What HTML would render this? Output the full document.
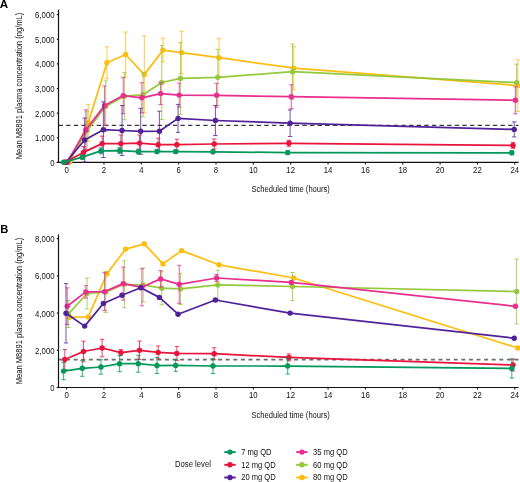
<!DOCTYPE html>
<html><head><meta charset="utf-8"><title>M8891 plasma concentration</title>
<style>
html,body{margin:0;padding:0;background:#fff;}
body{width:520px;height:482px;overflow:hidden;}
svg{display:block;}
svg text{font-family:"Liberation Sans", Arial, Helvetica, sans-serif;}
</style></head>
<body>
<svg width="520" height="482" viewBox="0 0 520 482">
<rect width="520" height="482" fill="#fff"/>
<text x="-0.2" y="7.9" font-size="11.6px" font-weight="bold" fill="#000">A</text>
<text transform="translate(22.40,86.00) rotate(-90) scale(1,1.12)" text-anchor="middle" font-size="7.6px" fill="#111">Mean M8891 plasma concentration (ng/mL)</text>
<line x1="58.5" y1="125.4" x2="518.5" y2="125.4" stroke="#3a3a3a" stroke-width="1.15" stroke-dasharray="4.4 3.22"/>
<line x1="58.5" y1="9.6" x2="58.5" y2="163.0" stroke="#111" stroke-width="1.2"/>
<line x1="56.8" y1="162.4" x2="518.6" y2="162.4" stroke="#111" stroke-width="1.2"/>
<line x1="56.8" y1="162.4" x2="58.5" y2="162.4" stroke="#111" stroke-width="1.1"/>
<text transform="translate(54.60,165.90) scale(1,1.12)" text-anchor="end" font-size="7.8px" fill="#111">0</text>
<line x1="56.8" y1="137.77" x2="58.5" y2="137.77" stroke="#111" stroke-width="1.1"/>
<text transform="translate(54.60,141.27) scale(1,1.12)" text-anchor="end" font-size="7.8px" fill="#111">1,000</text>
<line x1="56.8" y1="113.14" x2="58.5" y2="113.14" stroke="#111" stroke-width="1.1"/>
<text transform="translate(54.60,116.64) scale(1,1.12)" text-anchor="end" font-size="7.8px" fill="#111">2,000</text>
<line x1="56.8" y1="88.51" x2="58.5" y2="88.51" stroke="#111" stroke-width="1.1"/>
<text transform="translate(54.60,92.01) scale(1,1.12)" text-anchor="end" font-size="7.8px" fill="#111">3,000</text>
<line x1="56.8" y1="63.88" x2="58.5" y2="63.88" stroke="#111" stroke-width="1.1"/>
<text transform="translate(54.60,67.38) scale(1,1.12)" text-anchor="end" font-size="7.8px" fill="#111">4,000</text>
<line x1="56.8" y1="39.25" x2="58.5" y2="39.25" stroke="#111" stroke-width="1.1"/>
<text transform="translate(54.60,42.75) scale(1,1.12)" text-anchor="end" font-size="7.8px" fill="#111">5,000</text>
<line x1="56.8" y1="14.62" x2="58.5" y2="14.62" stroke="#111" stroke-width="1.1"/>
<text transform="translate(54.60,18.12) scale(1,1.12)" text-anchor="end" font-size="7.8px" fill="#111">6,000</text>
<line x1="66.60" y1="162.4" x2="66.60" y2="164.4" stroke="#111" stroke-width="1.1"/>
<text transform="translate(66.60,172.90) scale(1,1.12)" text-anchor="middle" font-size="7.8px" fill="#111">0</text>
<line x1="103.95" y1="162.4" x2="103.95" y2="164.4" stroke="#111" stroke-width="1.1"/>
<text transform="translate(103.95,172.90) scale(1,1.12)" text-anchor="middle" font-size="7.8px" fill="#111">2</text>
<line x1="141.30" y1="162.4" x2="141.30" y2="164.4" stroke="#111" stroke-width="1.1"/>
<text transform="translate(141.30,172.90) scale(1,1.12)" text-anchor="middle" font-size="7.8px" fill="#111">4</text>
<line x1="178.65" y1="162.4" x2="178.65" y2="164.4" stroke="#111" stroke-width="1.1"/>
<text transform="translate(178.65,172.90) scale(1,1.12)" text-anchor="middle" font-size="7.8px" fill="#111">6</text>
<line x1="216.00" y1="162.4" x2="216.00" y2="164.4" stroke="#111" stroke-width="1.1"/>
<text transform="translate(216.00,172.90) scale(1,1.12)" text-anchor="middle" font-size="7.8px" fill="#111">8</text>
<line x1="253.35" y1="162.4" x2="253.35" y2="164.4" stroke="#111" stroke-width="1.1"/>
<text transform="translate(253.35,172.90) scale(1,1.12)" text-anchor="middle" font-size="7.8px" fill="#111">10</text>
<line x1="290.70" y1="162.4" x2="290.70" y2="164.4" stroke="#111" stroke-width="1.1"/>
<text transform="translate(290.70,172.90) scale(1,1.12)" text-anchor="middle" font-size="7.8px" fill="#111">12</text>
<line x1="328.05" y1="162.4" x2="328.05" y2="164.4" stroke="#111" stroke-width="1.1"/>
<text transform="translate(328.05,172.90) scale(1,1.12)" text-anchor="middle" font-size="7.8px" fill="#111">14</text>
<line x1="365.40" y1="162.4" x2="365.40" y2="164.4" stroke="#111" stroke-width="1.1"/>
<text transform="translate(365.40,172.90) scale(1,1.12)" text-anchor="middle" font-size="7.8px" fill="#111">16</text>
<line x1="402.75" y1="162.4" x2="402.75" y2="164.4" stroke="#111" stroke-width="1.1"/>
<text transform="translate(402.75,172.90) scale(1,1.12)" text-anchor="middle" font-size="7.8px" fill="#111">18</text>
<line x1="440.10" y1="162.4" x2="440.10" y2="164.4" stroke="#111" stroke-width="1.1"/>
<text transform="translate(440.10,172.90) scale(1,1.12)" text-anchor="middle" font-size="7.8px" fill="#111">20</text>
<line x1="477.45" y1="162.4" x2="477.45" y2="164.4" stroke="#111" stroke-width="1.1"/>
<text transform="translate(477.45,172.90) scale(1,1.12)" text-anchor="middle" font-size="7.8px" fill="#111">22</text>
<line x1="514.80" y1="162.4" x2="514.80" y2="164.4" stroke="#111" stroke-width="1.1"/>
<text transform="translate(514.80,172.90) scale(1,1.12)" text-anchor="middle" font-size="7.8px" fill="#111">24</text>
<text transform="translate(290.70,192.20) scale(1,1.12)" text-anchor="middle" font-size="7.6px" fill="#111">Scheduled time (hours)</text>
<path d="M88.27 104.40V141.20M86.07 104.40H90.47M86.07 141.20H90.47M106.95 46.80V78.80M104.75 46.80H109.15M104.75 78.80H109.15M125.62 32.00V77.00M123.42 32.00H127.83M123.42 77.00H127.83M144.30 36.10V113.10M142.10 36.10H146.50M142.10 113.10H146.50M162.97 38.10V62.10M160.78 38.10H165.17M160.78 62.10H165.17M181.65 31.30V73.90M179.45 31.30H183.85M179.45 73.90H183.85M219.00 38.70V76.70M216.80 38.70H221.20M216.80 76.70H221.20M293.70 46.60V89.60M291.50 46.60H295.90M291.50 89.60H295.90M517.80 59.80V111.40M515.60 59.80H520.00M515.60 111.40H520.00" stroke="#fdbd10" stroke-opacity="0.78" stroke-width="1" fill="none"/>
<polyline points="69.60,162.30 88.27,122.80 106.95,62.80 125.62,54.50 144.30,74.60 162.97,50.10 181.65,52.60 219.00,57.70 293.70,68.10 517.80,85.60" fill="none" stroke="#fdbd10" stroke-width="1.75" stroke-linejoin="round"/>
<circle cx="69.60" cy="162.30" r="2.7" fill="#fdbd10"/>
<circle cx="88.27" cy="122.80" r="2.7" fill="#fdbd10"/>
<circle cx="106.95" cy="62.80" r="2.7" fill="#fdbd10"/>
<circle cx="125.62" cy="54.50" r="2.7" fill="#fdbd10"/>
<circle cx="144.30" cy="74.60" r="2.7" fill="#fdbd10"/>
<circle cx="162.97" cy="50.10" r="2.7" fill="#fdbd10"/>
<circle cx="181.65" cy="52.60" r="2.7" fill="#fdbd10"/>
<circle cx="219.00" cy="57.70" r="2.7" fill="#fdbd10"/>
<circle cx="293.70" cy="68.10" r="2.7" fill="#fdbd10"/>
<circle cx="517.80" cy="85.60" r="2.7" fill="#fdbd10"/>
<path d="M87.07 111.60V149.60M84.87 111.60H89.27M84.87 149.60H89.27M105.75 80.90V131.50M103.55 80.90H107.95M103.55 131.50H107.95M124.42 72.60V119.80M122.22 72.60H126.62M122.22 119.80H126.62M143.10 72.80V116.80M140.90 72.80H145.30M140.90 116.80H145.30M161.78 45.50V119.50M159.58 45.50H163.97M159.58 119.50H163.97M180.45 42.40V114.40M178.25 42.40H182.65M178.25 114.40H182.65M217.80 49.30V105.30M215.60 49.30H220.00M215.60 105.30H220.00M292.50 44.10V99.30M290.30 44.10H294.70M290.30 99.30H294.70M516.60 64.20V101.00M514.40 64.20H518.80M514.40 101.00H518.80" stroke="#96c83c" stroke-opacity="0.78" stroke-width="1" fill="none"/>
<polyline points="68.40,162.30 87.07,130.60 105.75,106.20 124.42,96.20 143.10,94.80 161.78,82.50 180.45,78.40 217.80,77.30 292.50,71.70 516.60,82.60" fill="none" stroke="#96c83c" stroke-width="1.75" stroke-linejoin="round"/>
<circle cx="68.40" cy="162.30" r="2.7" fill="#96c83c"/>
<circle cx="87.07" cy="130.60" r="2.7" fill="#96c83c"/>
<circle cx="105.75" cy="106.20" r="2.7" fill="#96c83c"/>
<circle cx="124.42" cy="96.20" r="2.7" fill="#96c83c"/>
<circle cx="143.10" cy="94.80" r="2.7" fill="#96c83c"/>
<circle cx="161.78" cy="82.50" r="2.7" fill="#96c83c"/>
<circle cx="180.45" cy="78.40" r="2.7" fill="#96c83c"/>
<circle cx="217.80" cy="77.30" r="2.7" fill="#96c83c"/>
<circle cx="292.50" cy="71.70" r="2.7" fill="#96c83c"/>
<circle cx="516.60" cy="82.60" r="2.7" fill="#96c83c"/>
<path d="M85.87 109.90V149.90M83.67 109.90H88.07M83.67 149.90H88.07M104.55 85.90V125.30M102.35 85.90H106.75M102.35 125.30H106.75M123.22 77.60V113.60M121.02 77.60H125.42M121.02 113.60H125.42M141.90 82.80V112.80M139.70 82.80H144.10M139.70 112.80H144.10M160.57 82.60V104.60M158.38 82.60H162.77M158.38 104.60H162.77M179.25 83.10V107.10M177.05 83.10H181.45M177.05 107.10H181.45M216.60 83.30V107.30M214.40 83.30H218.80M214.40 107.30H218.80M291.30 84.70V108.70M289.10 84.70H293.50M289.10 108.70H293.50M515.40 86.80V113.80M513.20 86.80H517.60M513.20 113.80H517.60" stroke="#ea2e8d" stroke-opacity="0.78" stroke-width="1" fill="none"/>
<polyline points="67.20,162.30 85.87,129.90 104.55,105.60 123.22,95.60 141.90,97.80 160.57,93.60 179.25,95.10 216.60,95.30 291.30,96.70 515.40,100.30" fill="none" stroke="#ea2e8d" stroke-width="1.75" stroke-linejoin="round"/>
<circle cx="67.20" cy="162.30" r="2.7" fill="#ea2e8d"/>
<circle cx="85.87" cy="129.90" r="2.7" fill="#ea2e8d"/>
<circle cx="104.55" cy="105.60" r="2.7" fill="#ea2e8d"/>
<circle cx="123.22" cy="95.60" r="2.7" fill="#ea2e8d"/>
<circle cx="141.90" cy="97.80" r="2.7" fill="#ea2e8d"/>
<circle cx="160.57" cy="93.60" r="2.7" fill="#ea2e8d"/>
<circle cx="179.25" cy="95.10" r="2.7" fill="#ea2e8d"/>
<circle cx="216.60" cy="95.30" r="2.7" fill="#ea2e8d"/>
<circle cx="291.30" cy="96.70" r="2.7" fill="#ea2e8d"/>
<circle cx="515.40" cy="100.30" r="2.7" fill="#ea2e8d"/>
<path d="M84.67 118.00V162.00M82.47 118.00H86.88M82.47 162.00H86.88M103.35 101.90V157.50M101.15 101.90H105.55M101.15 157.50H105.55M122.03 105.50V155.50M119.83 105.50H124.23M119.83 155.50H124.23M140.70 108.30V154.30M138.50 108.30H142.90M138.50 154.30H142.90M159.38 111.20V151.20M157.18 111.20H161.57M157.18 151.20H161.57M178.05 104.40V132.40M175.85 104.40H180.25M175.85 132.40H180.25M215.40 105.50V135.50M213.20 105.50H217.60M213.20 135.50H217.60M290.10 109.90V136.50M287.90 109.90H292.30M287.90 136.50H292.30M514.20 121.90V136.90M512.00 121.90H516.40M512.00 136.90H516.40" stroke="#50229a" stroke-opacity="0.78" stroke-width="1" fill="none"/>
<polyline points="66.00,162.30 84.67,140.00 103.35,129.70 122.03,130.50 140.70,131.30 159.38,131.20 178.05,118.40 215.40,120.50 290.10,123.20 514.20,129.40" fill="none" stroke="#50229a" stroke-width="1.75" stroke-linejoin="round"/>
<circle cx="66.00" cy="162.30" r="2.7" fill="#50229a"/>
<circle cx="84.67" cy="140.00" r="2.7" fill="#50229a"/>
<circle cx="103.35" cy="129.70" r="2.7" fill="#50229a"/>
<circle cx="122.03" cy="130.50" r="2.7" fill="#50229a"/>
<circle cx="140.70" cy="131.30" r="2.7" fill="#50229a"/>
<circle cx="159.38" cy="131.20" r="2.7" fill="#50229a"/>
<circle cx="178.05" cy="118.40" r="2.7" fill="#50229a"/>
<circle cx="215.40" cy="120.50" r="2.7" fill="#50229a"/>
<circle cx="290.10" cy="123.20" r="2.7" fill="#50229a"/>
<circle cx="514.20" cy="129.40" r="2.7" fill="#50229a"/>
<path d="M83.47 146.60V158.20M81.27 146.60H85.67M81.27 158.20H85.67M102.15 136.10V151.10M99.95 136.10H104.35M99.95 151.10H104.35M120.83 135.00V152.20M118.62 135.00H123.03M118.62 152.20H123.03M139.50 135.00V151.20M137.30 135.00H141.70M137.30 151.20H141.70M158.17 138.10V151.30M155.97 138.10H160.37M155.97 151.30H160.37M176.85 139.20V150.20M174.65 139.20H179.05M174.65 150.20H179.05M214.20 139.00V149.00M212.00 139.00H216.40M212.00 149.00H216.40M288.90 140.30V146.30M286.70 140.30H291.10M286.70 146.30H291.10M513.00 142.40V148.40M510.80 142.40H515.20M510.80 148.40H515.20" stroke="#e8143c" stroke-opacity="0.78" stroke-width="1" fill="none"/>
<polyline points="64.80,162.30 83.47,152.40 102.15,143.60 120.83,143.60 139.50,143.10 158.17,144.70 176.85,144.70 214.20,144.00 288.90,143.30 513.00,145.40" fill="none" stroke="#e8143c" stroke-width="1.75" stroke-linejoin="round"/>
<circle cx="64.80" cy="162.30" r="2.7" fill="#e8143c"/>
<circle cx="83.47" cy="152.40" r="2.7" fill="#e8143c"/>
<circle cx="102.15" cy="143.60" r="2.7" fill="#e8143c"/>
<circle cx="120.83" cy="143.60" r="2.7" fill="#e8143c"/>
<circle cx="139.50" cy="143.10" r="2.7" fill="#e8143c"/>
<circle cx="158.17" cy="144.70" r="2.7" fill="#e8143c"/>
<circle cx="176.85" cy="144.70" r="2.7" fill="#e8143c"/>
<circle cx="214.20" cy="144.00" r="2.7" fill="#e8143c"/>
<circle cx="288.90" cy="143.30" r="2.7" fill="#e8143c"/>
<circle cx="513.00" cy="145.40" r="2.7" fill="#e8143c"/>
<path d="M82.27 155.20V159.20M80.07 155.20H84.47M80.07 159.20H84.47M100.95 147.90V153.90M98.75 147.90H103.15M98.75 153.90H103.15M119.62 147.60V153.60M117.42 147.60H121.83M117.42 153.60H121.83M138.30 149.10V154.10M136.10 149.10H140.50M136.10 154.10H140.50M156.97 149.60V153.60M154.78 149.60H159.17M154.78 153.60H159.17M175.65 149.60V153.60M173.45 149.60H177.85M173.45 153.60H177.85M213.00 149.80V153.80M210.80 149.80H215.20M210.80 153.80H215.20M287.70 150.60V154.60M285.50 150.60H289.90M285.50 154.60H289.90M511.80 150.80V154.80M509.60 150.80H514.00M509.60 154.80H514.00" stroke="#00985a" stroke-opacity="0.78" stroke-width="1" fill="none"/>
<polyline points="63.60,162.30 82.27,157.20 100.95,150.90 119.62,150.60 138.30,151.60 156.97,151.60 175.65,151.60 213.00,151.80 287.70,152.60 511.80,152.80" fill="none" stroke="#00985a" stroke-width="1.75" stroke-linejoin="round"/>
<circle cx="63.60" cy="162.30" r="2.7" fill="#00985a"/>
<circle cx="82.27" cy="157.20" r="2.7" fill="#00985a"/>
<circle cx="100.95" cy="150.90" r="2.7" fill="#00985a"/>
<circle cx="119.62" cy="150.60" r="2.7" fill="#00985a"/>
<circle cx="138.30" cy="151.60" r="2.7" fill="#00985a"/>
<circle cx="156.97" cy="151.60" r="2.7" fill="#00985a"/>
<circle cx="175.65" cy="151.60" r="2.7" fill="#00985a"/>
<circle cx="213.00" cy="151.80" r="2.7" fill="#00985a"/>
<circle cx="287.70" cy="152.60" r="2.7" fill="#00985a"/>
<circle cx="511.80" cy="152.80" r="2.7" fill="#00985a"/>
<text x="0.35" y="232.9" font-size="11.2px" font-weight="bold" fill="#000">B</text>
<text transform="translate(22.40,311.00) rotate(-90) scale(1,1.12)" text-anchor="middle" font-size="7.6px" fill="#111">Mean M8891 plasma concentration (ng/mL)</text>
<line x1="58.5" y1="359.6" x2="518.5" y2="359.6" stroke="#6e6e6e" stroke-width="1.6" stroke-dasharray="4.0 3.6"/>
<line x1="58.5" y1="234.5" x2="58.5" y2="388.1" stroke="#111" stroke-width="1.2"/>
<line x1="56.8" y1="387.5" x2="518.6" y2="387.5" stroke="#111" stroke-width="1.2"/>
<line x1="56.8" y1="387.5" x2="58.5" y2="387.5" stroke="#111" stroke-width="1.1"/>
<text transform="translate(54.60,391.00) scale(1,1.12)" text-anchor="end" font-size="7.8px" fill="#111">0</text>
<line x1="56.8" y1="350.28" x2="58.5" y2="350.28" stroke="#111" stroke-width="1.1"/>
<text transform="translate(54.60,353.78) scale(1,1.12)" text-anchor="end" font-size="7.8px" fill="#111">2,000</text>
<line x1="56.8" y1="313.06" x2="58.5" y2="313.06" stroke="#111" stroke-width="1.1"/>
<text transform="translate(54.60,316.56) scale(1,1.12)" text-anchor="end" font-size="7.8px" fill="#111">4,000</text>
<line x1="56.8" y1="275.84" x2="58.5" y2="275.84" stroke="#111" stroke-width="1.1"/>
<text transform="translate(54.60,279.34) scale(1,1.12)" text-anchor="end" font-size="7.8px" fill="#111">6,000</text>
<line x1="56.8" y1="238.62" x2="58.5" y2="238.62" stroke="#111" stroke-width="1.1"/>
<text transform="translate(54.60,242.12) scale(1,1.12)" text-anchor="end" font-size="7.8px" fill="#111">8,000</text>
<line x1="66.60" y1="387.5" x2="66.60" y2="389.5" stroke="#111" stroke-width="1.1"/>
<text transform="translate(66.60,397.90) scale(1,1.12)" text-anchor="middle" font-size="7.8px" fill="#111">0</text>
<line x1="103.95" y1="387.5" x2="103.95" y2="389.5" stroke="#111" stroke-width="1.1"/>
<text transform="translate(103.95,397.90) scale(1,1.12)" text-anchor="middle" font-size="7.8px" fill="#111">2</text>
<line x1="141.30" y1="387.5" x2="141.30" y2="389.5" stroke="#111" stroke-width="1.1"/>
<text transform="translate(141.30,397.90) scale(1,1.12)" text-anchor="middle" font-size="7.8px" fill="#111">4</text>
<line x1="178.65" y1="387.5" x2="178.65" y2="389.5" stroke="#111" stroke-width="1.1"/>
<text transform="translate(178.65,397.90) scale(1,1.12)" text-anchor="middle" font-size="7.8px" fill="#111">6</text>
<line x1="216.00" y1="387.5" x2="216.00" y2="389.5" stroke="#111" stroke-width="1.1"/>
<text transform="translate(216.00,397.90) scale(1,1.12)" text-anchor="middle" font-size="7.8px" fill="#111">8</text>
<line x1="253.35" y1="387.5" x2="253.35" y2="389.5" stroke="#111" stroke-width="1.1"/>
<text transform="translate(253.35,397.90) scale(1,1.12)" text-anchor="middle" font-size="7.8px" fill="#111">10</text>
<line x1="290.70" y1="387.5" x2="290.70" y2="389.5" stroke="#111" stroke-width="1.1"/>
<text transform="translate(290.70,397.90) scale(1,1.12)" text-anchor="middle" font-size="7.8px" fill="#111">12</text>
<line x1="328.05" y1="387.5" x2="328.05" y2="389.5" stroke="#111" stroke-width="1.1"/>
<text transform="translate(328.05,397.90) scale(1,1.12)" text-anchor="middle" font-size="7.8px" fill="#111">14</text>
<line x1="365.40" y1="387.5" x2="365.40" y2="389.5" stroke="#111" stroke-width="1.1"/>
<text transform="translate(365.40,397.90) scale(1,1.12)" text-anchor="middle" font-size="7.8px" fill="#111">16</text>
<line x1="402.75" y1="387.5" x2="402.75" y2="389.5" stroke="#111" stroke-width="1.1"/>
<text transform="translate(402.75,397.90) scale(1,1.12)" text-anchor="middle" font-size="7.8px" fill="#111">18</text>
<line x1="440.10" y1="387.5" x2="440.10" y2="389.5" stroke="#111" stroke-width="1.1"/>
<text transform="translate(440.10,397.90) scale(1,1.12)" text-anchor="middle" font-size="7.8px" fill="#111">20</text>
<line x1="477.45" y1="387.5" x2="477.45" y2="389.5" stroke="#111" stroke-width="1.1"/>
<text transform="translate(477.45,397.90) scale(1,1.12)" text-anchor="middle" font-size="7.8px" fill="#111">22</text>
<line x1="514.80" y1="387.5" x2="514.80" y2="389.5" stroke="#111" stroke-width="1.1"/>
<text transform="translate(514.80,397.90) scale(1,1.12)" text-anchor="middle" font-size="7.8px" fill="#111">24</text>
<text transform="translate(290.70,417.70) scale(1,1.12)" text-anchor="middle" font-size="7.6px" fill="#111">Scheduled time (hours)</text>
<polyline points="69.60,317.20 88.27,316.90 106.95,273.80 125.62,249.10 144.30,243.80 162.97,263.90 181.65,250.60 219.00,264.80 293.70,278.00 517.80,348.00" fill="none" stroke="#fdbd10" stroke-width="1.75" stroke-linejoin="round"/>
<circle cx="69.60" cy="317.20" r="2.7" fill="#fdbd10"/>
<circle cx="88.27" cy="316.90" r="2.7" fill="#fdbd10"/>
<circle cx="106.95" cy="273.80" r="2.7" fill="#fdbd10"/>
<circle cx="125.62" cy="249.10" r="2.7" fill="#fdbd10"/>
<circle cx="144.30" cy="243.80" r="2.7" fill="#fdbd10"/>
<circle cx="162.97" cy="263.90" r="2.7" fill="#fdbd10"/>
<circle cx="181.65" cy="250.60" r="2.7" fill="#fdbd10"/>
<circle cx="219.00" cy="264.80" r="2.7" fill="#fdbd10"/>
<circle cx="293.70" cy="278.00" r="2.7" fill="#fdbd10"/>
<circle cx="517.80" cy="348.00" r="2.7" fill="#fdbd10"/>
<path d="M68.40 300.50V327.50M66.20 300.50H70.60M66.20 327.50H70.60M87.07 278.00V309.00M84.87 278.00H89.27M84.87 309.00H89.27M105.75 271.40V312.40M103.55 271.40H107.95M103.55 312.40H107.95M124.42 260.90V307.70M122.22 260.90H126.62M122.22 307.70H126.62M143.10 268.00V302.00M140.90 268.00H145.30M140.90 302.00H145.30M161.78 271.70V304.70M159.58 271.70H163.97M159.58 304.70H163.97M180.45 273.30V304.50M178.25 273.30H182.65M178.25 304.50H182.65M217.80 270.30V299.50M215.60 270.30H220.00M215.60 299.50H220.00M292.50 272.50V300.50M290.30 272.50H294.70M290.30 300.50H294.70M516.60 259.10V323.90M514.40 259.10H518.80M514.40 323.90H518.80" stroke="#96c83c" stroke-opacity="0.78" stroke-width="1" fill="none"/>
<polyline points="68.40,314.00 87.07,293.50 105.75,291.90 124.42,284.30 143.10,285.00 161.78,288.20 180.45,288.90 217.80,284.90 292.50,286.50 516.60,291.50" fill="none" stroke="#96c83c" stroke-width="1.75" stroke-linejoin="round"/>
<circle cx="68.40" cy="314.00" r="2.7" fill="#96c83c"/>
<circle cx="87.07" cy="293.50" r="2.7" fill="#96c83c"/>
<circle cx="105.75" cy="291.90" r="2.7" fill="#96c83c"/>
<circle cx="124.42" cy="284.30" r="2.7" fill="#96c83c"/>
<circle cx="143.10" cy="285.00" r="2.7" fill="#96c83c"/>
<circle cx="161.78" cy="288.20" r="2.7" fill="#96c83c"/>
<circle cx="180.45" cy="288.90" r="2.7" fill="#96c83c"/>
<circle cx="217.80" cy="284.90" r="2.7" fill="#96c83c"/>
<circle cx="292.50" cy="286.50" r="2.7" fill="#96c83c"/>
<circle cx="516.60" cy="291.50" r="2.7" fill="#96c83c"/>
<path d="M67.20 287.90V324.50M65.00 287.90H69.40M65.00 324.50H69.40M85.87 285.70V298.10M83.67 285.70H88.07M83.67 298.10H88.07M104.55 272.60V310.60M102.35 272.60H106.75M102.35 310.60H106.75M123.22 267.10V300.10M121.02 267.10H125.42M121.02 300.10H125.42M141.90 268.80V305.80M139.70 268.80H144.10M139.70 305.80H144.10M160.57 270.60V287.20M158.38 270.60H162.77M158.38 287.20H162.77M179.25 265.30V303.30M177.05 265.30H181.45M177.05 303.30H181.45M216.60 274.50V281.50M214.40 274.50H218.80M214.40 281.50H218.80" stroke="#ea2e8d" stroke-opacity="0.78" stroke-width="1" fill="none"/>
<polyline points="67.20,306.20 85.87,291.90 104.55,291.60 123.22,283.60 141.90,287.30 160.57,278.90 179.25,284.30 216.60,278.00 291.30,282.40 515.40,306.30" fill="none" stroke="#ea2e8d" stroke-width="1.75" stroke-linejoin="round"/>
<circle cx="67.20" cy="306.20" r="2.7" fill="#ea2e8d"/>
<circle cx="85.87" cy="291.90" r="2.7" fill="#ea2e8d"/>
<circle cx="104.55" cy="291.60" r="2.7" fill="#ea2e8d"/>
<circle cx="123.22" cy="283.60" r="2.7" fill="#ea2e8d"/>
<circle cx="141.90" cy="287.30" r="2.7" fill="#ea2e8d"/>
<circle cx="160.57" cy="278.90" r="2.7" fill="#ea2e8d"/>
<circle cx="179.25" cy="284.30" r="2.7" fill="#ea2e8d"/>
<circle cx="216.60" cy="278.00" r="2.7" fill="#ea2e8d"/>
<circle cx="291.30" cy="282.40" r="2.7" fill="#ea2e8d"/>
<circle cx="515.40" cy="306.30" r="2.7" fill="#ea2e8d"/>
<path d="M66.00 283.60V343.00M63.80 283.60H68.20M63.80 343.00H68.20" stroke="#50229a" stroke-opacity="0.78" stroke-width="1" fill="none"/>
<polyline points="66.00,313.30 84.67,326.10 103.35,303.50 122.03,295.30 140.70,287.70 159.38,297.40 178.05,314.20 215.40,300.00 290.10,313.10 514.20,338.20" fill="none" stroke="#50229a" stroke-width="1.75" stroke-linejoin="round"/>
<circle cx="66.00" cy="313.30" r="2.7" fill="#50229a"/>
<circle cx="84.67" cy="326.10" r="2.7" fill="#50229a"/>
<circle cx="103.35" cy="303.50" r="2.7" fill="#50229a"/>
<circle cx="122.03" cy="295.30" r="2.7" fill="#50229a"/>
<circle cx="140.70" cy="287.70" r="2.7" fill="#50229a"/>
<circle cx="159.38" cy="297.40" r="2.7" fill="#50229a"/>
<circle cx="178.05" cy="314.20" r="2.7" fill="#50229a"/>
<circle cx="215.40" cy="300.00" r="2.7" fill="#50229a"/>
<circle cx="290.10" cy="313.10" r="2.7" fill="#50229a"/>
<circle cx="514.20" cy="338.20" r="2.7" fill="#50229a"/>
<path d="M64.80 349.50V369.50M62.60 349.50H67.00M62.60 369.50H67.00M83.47 341.20V361.80M81.27 341.20H85.67M81.27 361.80H85.67M102.15 339.30V356.70M99.95 339.30H104.35M99.95 356.70H104.35M120.83 349.60V355.60M118.62 349.60H123.03M118.62 355.60H123.03M139.50 341.10V359.50M137.30 341.10H141.70M137.30 359.50H141.70M158.17 345.90V358.90M155.97 345.90H160.37M155.97 358.90H160.37M176.85 346.40V360.40M174.65 346.40H179.05M174.65 360.40H179.05M214.20 347.70V359.70M212.00 347.70H216.40M212.00 359.70H216.40M288.90 353.90V360.90M286.70 353.90H291.10M286.70 360.90H291.10M513.00 359.00V371.00M510.80 359.00H515.20M510.80 371.00H515.20" stroke="#e8143c" stroke-opacity="0.78" stroke-width="1" fill="none"/>
<polyline points="64.80,359.50 83.47,351.50 102.15,348.00 120.83,352.60 139.50,350.30 158.17,352.40 176.85,353.40 214.20,353.70 288.90,357.40 513.00,365.00" fill="none" stroke="#e8143c" stroke-width="1.75" stroke-linejoin="round"/>
<circle cx="64.80" cy="359.50" r="2.7" fill="#e8143c"/>
<circle cx="83.47" cy="351.50" r="2.7" fill="#e8143c"/>
<circle cx="102.15" cy="348.00" r="2.7" fill="#e8143c"/>
<circle cx="120.83" cy="352.60" r="2.7" fill="#e8143c"/>
<circle cx="139.50" cy="350.30" r="2.7" fill="#e8143c"/>
<circle cx="158.17" cy="352.40" r="2.7" fill="#e8143c"/>
<circle cx="176.85" cy="353.40" r="2.7" fill="#e8143c"/>
<circle cx="214.20" cy="353.70" r="2.7" fill="#e8143c"/>
<circle cx="288.90" cy="357.40" r="2.7" fill="#e8143c"/>
<circle cx="513.00" cy="365.00" r="2.7" fill="#e8143c"/>
<path d="M63.60 362.50V379.70M61.40 362.50H65.80M61.40 379.70H65.80M82.27 360.30V376.30M80.07 360.30H84.47M80.07 376.30H84.47M100.95 359.80V374.20M98.75 359.80H103.15M98.75 374.20H103.15M119.62 355.70V371.70M117.42 355.70H121.83M117.42 371.70H121.83M138.30 355.20V372.20M136.10 355.20H140.50M136.10 372.20H140.50M156.97 357.50V373.50M154.78 357.50H159.17M154.78 373.50H159.17M175.65 359.40V371.40M173.45 359.40H177.85M173.45 371.40H177.85M213.00 358.50V373.50M210.80 358.50H215.20M210.80 373.50H215.20M287.70 358.00V374.00M285.50 358.00H289.90M285.50 374.00H289.90M511.80 359.00V378.00M509.60 359.00H514.00M509.60 378.00H514.00" stroke="#00985a" stroke-opacity="0.78" stroke-width="1" fill="none"/>
<polyline points="63.60,371.10 82.27,368.30 100.95,367.00 119.62,363.70 138.30,363.70 156.97,365.50 175.65,365.40 213.00,366.00 287.70,366.00 511.80,368.50" fill="none" stroke="#00985a" stroke-width="1.75" stroke-linejoin="round"/>
<circle cx="63.60" cy="371.10" r="2.7" fill="#00985a"/>
<circle cx="82.27" cy="368.30" r="2.7" fill="#00985a"/>
<circle cx="100.95" cy="367.00" r="2.7" fill="#00985a"/>
<circle cx="119.62" cy="363.70" r="2.7" fill="#00985a"/>
<circle cx="138.30" cy="363.70" r="2.7" fill="#00985a"/>
<circle cx="156.97" cy="365.50" r="2.7" fill="#00985a"/>
<circle cx="175.65" cy="365.40" r="2.7" fill="#00985a"/>
<circle cx="213.00" cy="366.00" r="2.7" fill="#00985a"/>
<circle cx="287.70" cy="366.00" r="2.7" fill="#00985a"/>
<circle cx="511.80" cy="368.50" r="2.7" fill="#00985a"/>
<text transform="translate(175.00,467.30) scale(1,1.12)" font-size="7.7px" fill="#111">Dose level</text>
<line x1="224.3" y1="452.1" x2="235.70000000000002" y2="452.1" stroke="#00985a" stroke-width="1.9"/>
<circle cx="230.0" cy="452.1" r="2.7" fill="#00985a"/>
<text transform="translate(241.20,455.00) scale(1,1.12)" font-size="7.6px" fill="#111">7 mg QD</text>
<line x1="224.3" y1="464.8" x2="235.70000000000002" y2="464.8" stroke="#e8143c" stroke-width="1.9"/>
<circle cx="230.0" cy="464.8" r="2.7" fill="#e8143c"/>
<text transform="translate(241.20,467.70) scale(1,1.12)" font-size="7.6px" fill="#111">12 mg QD</text>
<line x1="224.3" y1="477.5" x2="235.70000000000002" y2="477.5" stroke="#50229a" stroke-width="1.9"/>
<circle cx="230.0" cy="477.5" r="2.7" fill="#50229a"/>
<text transform="translate(241.20,480.40) scale(1,1.12)" font-size="7.6px" fill="#111">20 mg QD</text>
<line x1="296.2" y1="452.1" x2="307.59999999999997" y2="452.1" stroke="#ea2e8d" stroke-width="1.9"/>
<circle cx="301.9" cy="452.1" r="2.7" fill="#ea2e8d"/>
<text transform="translate(313.10,455.00) scale(1,1.12)" font-size="7.6px" fill="#111">35 mg QD</text>
<line x1="296.2" y1="464.8" x2="307.59999999999997" y2="464.8" stroke="#96c83c" stroke-width="1.9"/>
<circle cx="301.9" cy="464.8" r="2.7" fill="#96c83c"/>
<text transform="translate(313.10,467.70) scale(1,1.12)" font-size="7.6px" fill="#111">60 mg QD</text>
<line x1="296.2" y1="477.5" x2="307.59999999999997" y2="477.5" stroke="#fdbd10" stroke-width="1.9"/>
<circle cx="301.9" cy="477.5" r="2.7" fill="#fdbd10"/>
<text transform="translate(313.10,480.40) scale(1,1.12)" font-size="7.6px" fill="#111">80 mg QD</text>
</svg>
</body></html>
